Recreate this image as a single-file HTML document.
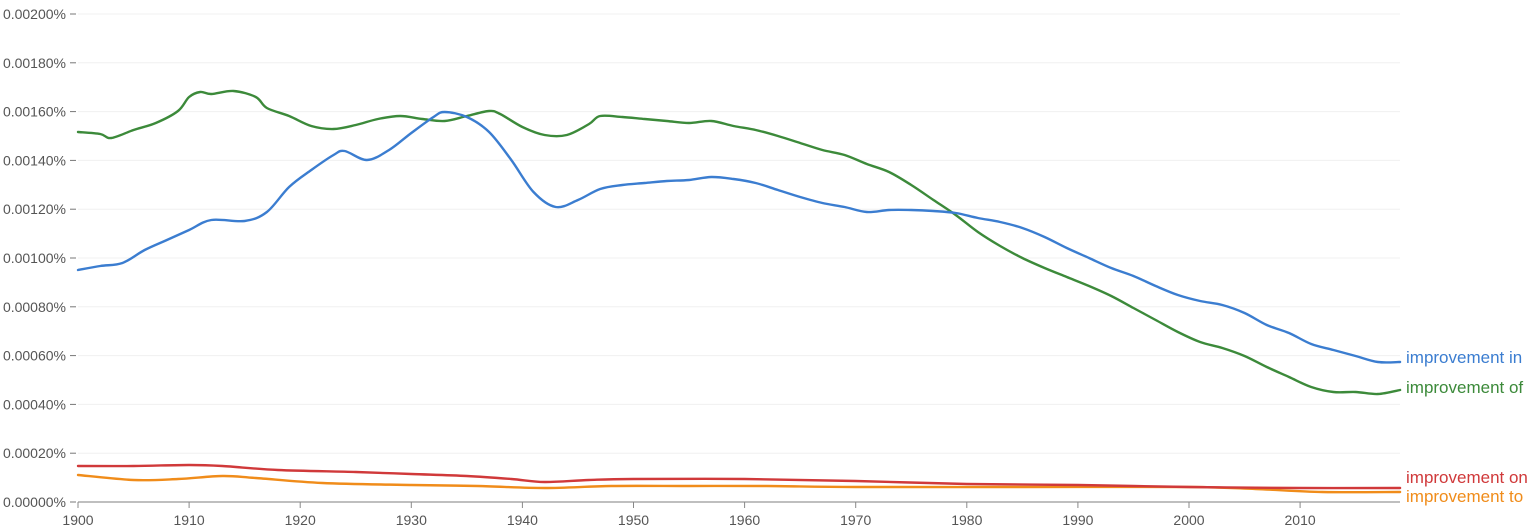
<!DOCTYPE html>
<html><head><meta charset="utf-8"><style>
html,body{margin:0;padding:0;background:#fff;}
svg{display:block;font-family:"Liberation Sans",Roboto,sans-serif;}
</style></head><body>
<svg id="s" width="1536" height="527" viewBox="0 0 1536 527" xmlns="http://www.w3.org/2000/svg">
<g id="grid"></g>
<g id="lines" fill="none" stroke-width="2.4" stroke-linejoin="round" stroke-linecap="round"></g>
<text x="1406" y="363" font-size="17" fill="#3b7dd0">improvement in</text>
<text x="1406" y="393" font-size="17" fill="#3c8a3a">improvement of</text>
<text x="1406" y="483" font-size="17" fill="#d0393a">improvement on</text>
<text x="1406" y="502" font-size="17" fill="#f08c1a">improvement to</text>
</svg>
<script>
const NS="http://www.w3.org/2000/svg";
const g=document.getElementById('grid'),L=document.getElementById('lines');
function el(t,a,p,txt){const e=document.createElementNS(NS,t);for(const k in a)e.setAttribute(k,a[k]);if(txt)e.textContent=txt;p.appendChild(e);return e;}
const labs=["0.00000%","0.00020%","0.00040%","0.00060%","0.00080%","0.00100%","0.00120%","0.00140%","0.00160%","0.00180%","0.00200%"];
for(let k=0;k<=10;k++){const y=502-k*48.8;
 if(k>0)el('line',{x1:78,x2:1400,y1:y,y2:y,stroke:'#f0f0f0','stroke-width':1},g);
 el('line',{x1:70,x2:76,y1:y,y2:y,stroke:'#777','stroke-width':1},g);
 el('text',{x:66,y:y+5,'font-size':14,fill:'#555','text-anchor':'end'},g,labs[k]);}
el('line',{x1:78,x2:1400,y1:502,y2:502,stroke:'#999','stroke-width':1.2},g);
const X=yr=>78+(yr-1900)*11.11;
for(let yr=1900;yr<=2010;yr+=10){const x=X(yr);el('line',{x1:x,x2:x,y1:502,y2:508,stroke:'#888','stroke-width':1},g);
 el('text',{x:x,y:525,'font-size':14,fill:'#555','text-anchor':'middle'},g,String(yr));}
function draw(d,c){const p=[];for(let i=0;i<d.length;i+=2)p.push([X(d[i]),d[i+1]]);
 let s=`M${p[0][0]},${p[0][1]}`;
 for(let i=0;i<p.length-1;i++){const p0=p[i-1]||p[i],p1=p[i],p2=p[i+1],p3=p[i+2]||p2;
  s+=` C${p1[0]+(p2[0]-p0[0])/6},${p1[1]+(p2[1]-p0[1])/6} ${p2[0]-(p3[0]-p1[0])/6},${p2[1]-(p3[1]-p1[1])/6} ${p2[0]},${p2[1]}`;}
 el('path',{d:s,stroke:c},L);}
draw([1900,475,1905,480,1909,479,1913,476,1916,478,1922,483,1930,485,1936,486,1942,488,1948,486,1955,486,1962,486,1970,487,1985,487,2000,487,2006,489,2012,492,2019,492],'#f08c1a');
draw([1900,466,1905,466,1910,465,1913,466,1918,470,1925,472,1930,474,1935,476,1939,479,1942,482,1946,480,1950,479,1960,479,1970,481,1980,484,1990,485,2000,487,2010,488,2019,488],'#d0393a');
draw([1900,132,1902,134,1903,138,1905,130,1907,123,1909,111,1910,97,1911,92,1912,94,1914,91,1916,97,1917,108,1919,116,1921,126,1923,129,1925,125,1927,119,1929,116,1931,119,1933,121,1935,116,1937,111,1938,114,1940,127,1942,135,1944,135,1946,124,1947,116,1949,117,1951,119,1953,121,1955,123,1957,121,1959,126,1961,130,1963,136,1965,143,1967,150,1969,155,1971,164,1973,172,1975,185,1977,200,1979,215,1981,232,1983,246,1985,258,1987,268,1989,277,1991,286,1993,296,1995,308,1997,320,1999,332,2001,342,2003,348,2005,356,2007,367,2009,377,2011,387,2013,392,2015,392,2017,394,2019,390],'#3c8a3a');
draw([1900,270,1902,266,1904,263,1906,250,1908,240,1910,230,1912,220,1915,221,1917,212,1919,187,1921,170,1923,155,1924,151,1926,160,1928,150,1930,133,1932,117,1933,112,1935,117,1937,132,1939,160,1941,192,1943,207,1945,200,1947,189,1949,185,1951,183,1953,181,1955,180,1957,177,1959,179,1961,183,1963,190,1965,197,1967,203,1969,207,1971,212,1973,210,1975,210,1977,211,1979,213,1981,218,1983,222,1985,228,1987,237,1989,248,1991,258,1993,268,1995,276,1997,286,1999,295,2001,301,2003,305,2005,313,2007,325,2009,333,2011,344,2013,350,2015,356,2017,362,2019,362],'#3b7dd0');
</script>
</body></html>
